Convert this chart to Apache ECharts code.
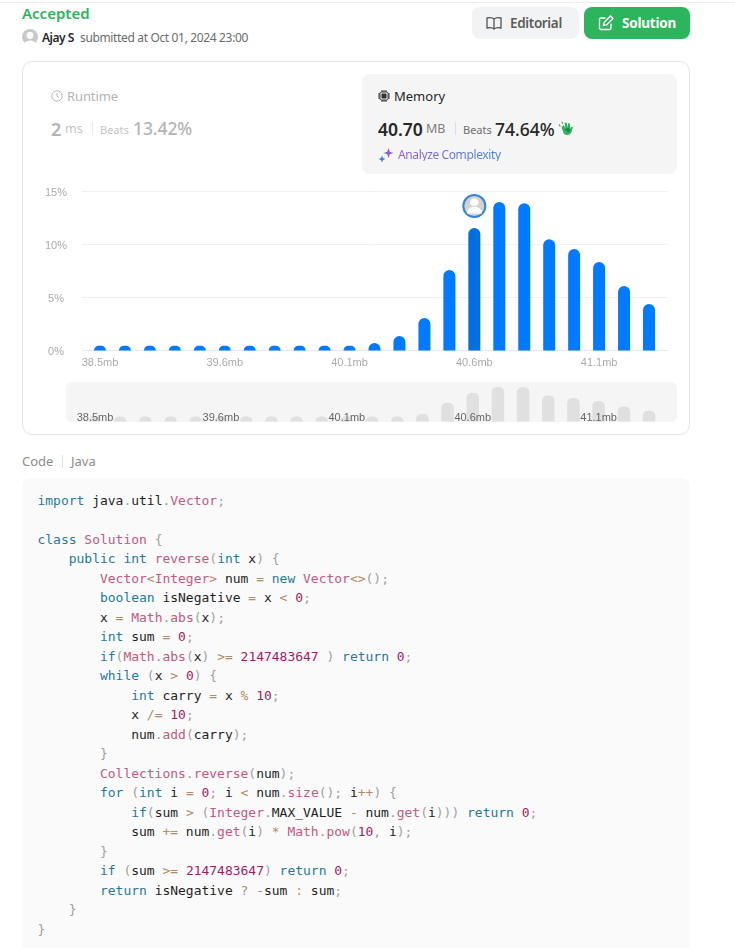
<!DOCTYPE html>
<html>
<head>
<meta charset="utf-8">
<script src="https://cdn.jsdelivr.net/npm/echarts@6/dist/echarts.min.js"></script>
<style>
  html, body { margin: 0; padding: 0; background: #fff; }
  body { width: 735px; height: 948px; position: relative; overflow: hidden; font-family: "Noto Sans", sans-serif; color: #262626; }
  .abs { position: absolute; white-space: nowrap; line-height: 1; }
  .box { position: absolute; box-sizing: border-box; }
  .grey { color: #b3b3b3; }
  svg { position: absolute; }
  #chart { position: absolute; left: 0; top: 170px; width: 735px; height: 265px; }
  #code { position: absolute; left: 37.500px; top: 490.500px; margin: 0; font: 12.98px/19.52px "DejaVu Sans Mono", monospace; color: #1f1f1f; }
  .k { color: #1f7a99; } .f { color: #c4587f; } .n { color: #a11a63; } .p { color: #a0a0a0; } .o { color: #b08c64; }
</style>
</head>
<body>
<div class="box" style="left:0;top:2px;width:735px;height:1px;background:#ececec"></div>

<div class="abs" style="left:22px;top:6px;font-size:15px;font-weight:600;color:#2db55d">Accepted</div>
<svg style="left:22px;top:29px" width="16" height="16" viewBox="0 0 16 16"><circle cx="8" cy="8" r="8" fill="#c9c9c9"/><circle cx="8" cy="6.500" r="3.400" fill="#fff"/><path d="M2.500 14c1-3.500 10-3.500 11 0v2h-11z" fill="#fff"/></svg>
<div class="abs" style="left:42px;top:32px;font-size:12px;font-weight:600;letter-spacing:-.5px">Ajay S</div>
<div class="abs" style="left:80px;top:32px;font-size:12px;color:#6b6b6b;letter-spacing:-.35px">submitted at Oct 01, 2024 23:00</div>

<div class="box" style="left:472px;top:7px;width:107px;height:32px;background:#f2f3f5;border-radius:8px"></div>
<svg style="left:486px;top:16px" width="16" height="14" viewBox="0 0 16 14" fill="none" stroke="#555" stroke-width="1.300"><path d="M8 3C6.500 1.600 3.500 1.400 1 2v10c2.500-.6 5.500-.4 7 1 1.500-1.400 4.500-1.600 7-1V2C12.500 1.400 9.500 1.600 8 3zM8 3v10"/></svg>
<div class="abs" style="left:510px;top:17px;font-size:13.500px;font-weight:600;color:#5c5c5c;letter-spacing:-.35px">Editorial</div>
<div class="box" style="left:584px;top:7px;width:106px;height:32px;background:#2db55d;border-radius:8px"></div>
<svg style="left:598px;top:15px" width="16" height="16" viewBox="0 0 16 16" fill="none" stroke="#fff" stroke-width="1.300"><path d="M13 8.500V13a1.500 1.500 0 0 1-1.500 1.500H3A1.500 1.500 0 0 1 1.500 13V4.500A1.500 1.500 0 0 1 3 3h4.500M5.500 10.500l.6-3L12.500 1l2.500 2.500L8.500 10z"/></svg>
<div class="abs" style="left:622px;top:17px;font-size:13.500px;font-weight:700;color:#fff;letter-spacing:-.2px">Solution</div>

<div class="box" style="left:22px;top:61px;width:668px;height:374px;border:1px solid #e6e6e6;border-radius:10px"></div>

<svg style="left:51px;top:90px" width="12" height="12" viewBox="0 0 12 12" fill="none" stroke="#b8b8b8" stroke-width="1"><circle cx="6" cy="6" r="5.200"/><path d="M6 3v3.200l2 1.200"/></svg>
<div class="abs grey" style="left:67px;top:90px;font-size:13px;letter-spacing:-.1px">Runtime</div>
<div class="abs grey" style="left:51px;top:120px;font-size:18px;font-weight:600">2</div>
<div class="abs grey" style="left:65px;top:123px;font-size:12.500px;color:#c4c4c4">ms</div>
<div class="box" style="left:92px;top:122px;width:1px;height:13px;background:#ececec"></div>
<div class="abs grey" style="left:100px;top:124px;font-size:11px;color:#c4c4c4">Beats</div>
<div class="abs grey" style="left:133px;top:120px;font-size:17.500px;font-weight:500;letter-spacing:-.1px">13.42%</div>

<div class="box" style="left:362px;top:74px;width:315px;height:100px;background:#f5f5f5;border-radius:8px"></div>
<svg style="left:378px;top:90px" width="12" height="12" viewBox="0 0 12 12" fill="none" stroke="#333" stroke-width="1"><rect x="2" y="2" width="8" height="8" rx="1.500"/><rect x="4" y="4" width="4" height="4" fill="#333"/><path d="M4 0v2M6 0v2M8 0v2M4 10v2M6 10v2M8 10v2M0 4h2M0 6h2M0 8h2M10 4h2M10 6h2M10 8h2"/></svg>
<div class="abs" style="left:394px;top:90px;font-size:13px">Memory</div>
<div class="abs" style="left:378px;top:121px;font-size:17.500px;font-weight:600">40.70</div>
<div class="abs" style="left:426px;top:123px;font-size:12.500px;color:#7d7d7d">MB</div>
<div class="box" style="left:455px;top:122px;width:1px;height:13px;background:#dedede"></div>
<div class="abs" style="left:463px;top:124px;font-size:11px;color:#6f6f6f">Beats</div>
<div class="abs" style="left:495px;top:121px;font-size:17.500px;font-weight:500">74.64%</div>
<svg style="left:559px;top:121px" width="15" height="15" viewBox="0 0 15 15"><path d="M2.500 6.500l2.500 6.500c2.500 1.800 6.500 1.200 7.500-2l1.500-5-2-.2-1 2.400L11 2.500 9 2.300 9 6.500 7.500 1.500 5.500 2l1 5L4.500 4z" fill="#2db55d"/><path d="M5.500 8.500l4 3 2-2-2-3z" fill="#1a8a4a"/><path d="M1 5.500L.5 3.500M3.500 2.500L3 .8" stroke="#1a7f45" stroke-width="1"/></svg>
<svg style="left:378px;top:147px" width="16" height="16" viewBox="0 0 16 16"><path d="M10.500 1l1.300 3.700L15.500 6l-3.700 1.300L10.500 11 9.200 7.300 5.500 6l3.700-1.300z" fill="#8a63d2"/><path d="M4 8.500l1 2.500 2.500 1L5 13l-1 2.500L3 13 .5 12 3 11z" fill="#3f7fd9"/></svg>
<div class="abs" style="left:398px;top:149px;font-size:12px;letter-spacing:-.38px;color:transparent;background:linear-gradient(90deg,#8e5fc9,#3f86d6);-webkit-background-clip:text;background-clip:text">Analyze Complexity</div>

<div class="box" style="left:66px;top:382px;width:611px;height:40px;background:#f5f5f5;border-radius:6px"></div>

<div id="chart"></div>

<div class="abs" style="left:22px;top:455px;font-size:13px;color:#8c8c8c">Code</div>
<div class="box" style="left:62px;top:455px;width:1px;height:13px;background:#e2e2e2"></div>
<div class="abs" style="left:71px;top:455px;font-size:13px;color:#8c8c8c">Java</div>
<div class="box" style="left:22px;top:478px;width:668px;height:480px;background:#fafafa;border-radius:8px"></div>
<pre id="code"></pre>

<script>
const chartTop = 170

// memory distribution, one bar per bucket, labels every fifth bucket
const buckets = ['38.5mb', '', '', '', '', '39.6mb', '', '', '', '', '40.1mb', '', '', '', '', '40.6mb', '', '', '', '', '41.1mb', '', '']
const share = [0.45, 0.45, 0.45, 0.45, 0.45, 0.45, 0.45, 0.45, 0.45, 0.45, 0.45, 0.7, 1.37, 3.07, 7.6, 11.55, 14.0, 13.9, 10.5, 9.57, 8.35, 6.08, 4.38]
const userBucket = 15

const codeLines = [
  'import java.util.Vector;',
  '',
  'class Solution {',
  '    public int reverse(int x) {',
  '        Vector<Integer> num = new Vector<>();',
  '        boolean isNegative = x < 0;',
  '        x = Math.abs(x);',
  '        int sum = 0;',
  '        if(Math.abs(x) >= 2147483647 ) return 0;',
  '        while (x > 0) {',
  '            int carry = x % 10;',
  '            x /= 10;',
  '            num.add(carry);',
  '        }',
  '        Collections.reverse(num);',
  '        for (int i = 0; i < num.size(); i++) {',
  '            if(sum > (Integer.MAX_VALUE - num.get(i))) return 0;',
  '            sum += num.get(i) * Math.pow(10, i);',
  '        }',
  '        if (sum >= 2147483647) return 0;',
  '        return isNegative ? -sum : sum;',
  '    }',
  '}'
]

const keywords = ['import', 'class', 'public', 'int', 'boolean', 'new', 'if', 'while', 'for', 'return']
const pinkWords = ['Vector', 'Solution', 'reverse', 'Integer', 'Math', 'abs', 'add', 'Collections', 'size', 'get', 'pow']

function escapeHtml(s) {
  return s.replace(/&/g, '&amp;').replace(/</g, '&lt;').replace(/>/g, '&gt;')
}

function highlight(line) {
  return line.replace(/[A-Za-z_]\w*|\d+|[^\sA-Za-z0-9_]/g, (tok) => {
    let cls = 'o'
    if (keywords.includes(tok)) cls = 'k'
    else if (pinkWords.includes(tok)) cls = 'f'
    else if (/^\d/.test(tok)) cls = 'n'
    else if (/^[A-Za-z_]/.test(tok)) return tok
    else if (/[(){};.,]/.test(tok)) cls = 'p'
    return '<span class="' + cls + '">' + escapeHtml(tok) + '</span>'
  })
}

document.getElementById('code').innerHTML = codeLines.map(highlight).join('\n')

let chart = echarts.init(document.getElementById('chart'))

let mainData = share.map((v, i) => {
  return i === userBucket ? { value: v, itemStyle: { color: '#006fe0' } } : v
})

let option = {
  animation: false,
  grid: [
    // grid lines run a little wider than the bars
    { left: 82, width: 585, top: 191.5 - chartTop, height: 159 },
    { left: 87.5, width: 574, top: 191.5 - chartTop, height: 159 },
    { left: 82.4, width: 579.2, top: 382 - chartTop, height: 39.6 }
  ],
  xAxis: [
    {
      gridIndex: 0,
      type: 'category',
      data: buckets,
      axisLine: { lineStyle: { color: '#e3e9f2' } },
      axisTick: { show: false },
      axisLabel: { show: false }
    },
    {
      gridIndex: 1,
      type: 'category',
      data: buckets,
      axisLine: { show: false },
      axisTick: { show: false },
      axisLabel: { interval: 0, color: '#aaaaaa', fontSize: 11, fontFamily: 'Liberation Sans', margin: 7 }
    },
    {
      gridIndex: 2,
      type: 'category',
      data: buckets,
      z: 5,
      axisLine: { show: false },
      axisTick: { show: false },
      axisLabel: { interval: 0, inside: true, margin: -2, color: '#666666', fontSize: 11, fontFamily: 'Liberation Sans' }
    }
  ],
  yAxis: [
    {
      gridIndex: 0,
      type: 'value',
      min: 0,
      max: 15,
      interval: 5,
      axisLine: { show: false },
      axisTick: { show: false },
      splitLine: { lineStyle: { color: '#f0f0f0' } },
      // labels sit a bit below their grid line
      axisLabel: { formatter: '{value}%', align: 'center', verticalAlign: 'top', lineHeight: 3, margin: 26, color: '#aaaaaa', fontSize: 11, fontFamily: 'Liberation Sans' }
    },
    { gridIndex: 1, type: 'value', min: 0, max: 15, show: false },
    { gridIndex: 2, type: 'value', min: 0, max: 16, show: false }
  ],
  series: [
    {
      type: 'bar',
      xAxisIndex: 1,
      yAxisIndex: 1,
      data: mainData,
      barWidth: 12,
      itemStyle: { color: '#007aff', borderRadius: [6, 6, 0, 0] },
      markPoint: {
        silent: true,
        label: { show: false },
        data: [
          {
            coord: [userBucket, share[userBucket]],
            symbol: 'circle',
            symbolSize: 22,
            symbolOffset: [0, -22],
            itemStyle: { color: '#d2d2d2', borderColor: '#2f84d6', borderWidth: 2 }
          },
          {
            coord: [userBucket, share[userBucket]],
            symbol: 'path://M12 3a5 5 0 1 1 0 10a5 5 0 0 1 0-10zM3 23c0-6 4-9 9-9s9 3 9 9z',
            symbolSize: 15,
            symbolOffset: [0, -22],
            itemStyle: { color: '#ffffff' }
          }
        ]
      }
    },
    {
      type: 'bar',
      xAxisIndex: 2,
      yAxisIndex: 2,
      data: share,
      barWidth: 12.5,
      barMinHeight: 5,
      silent: true,
      itemStyle: { color: '#e0e0e0', borderRadius: [5, 5, 0, 0] }
    }
  ]
}

chart.setOption(option)
</script>
</body>
</html>
